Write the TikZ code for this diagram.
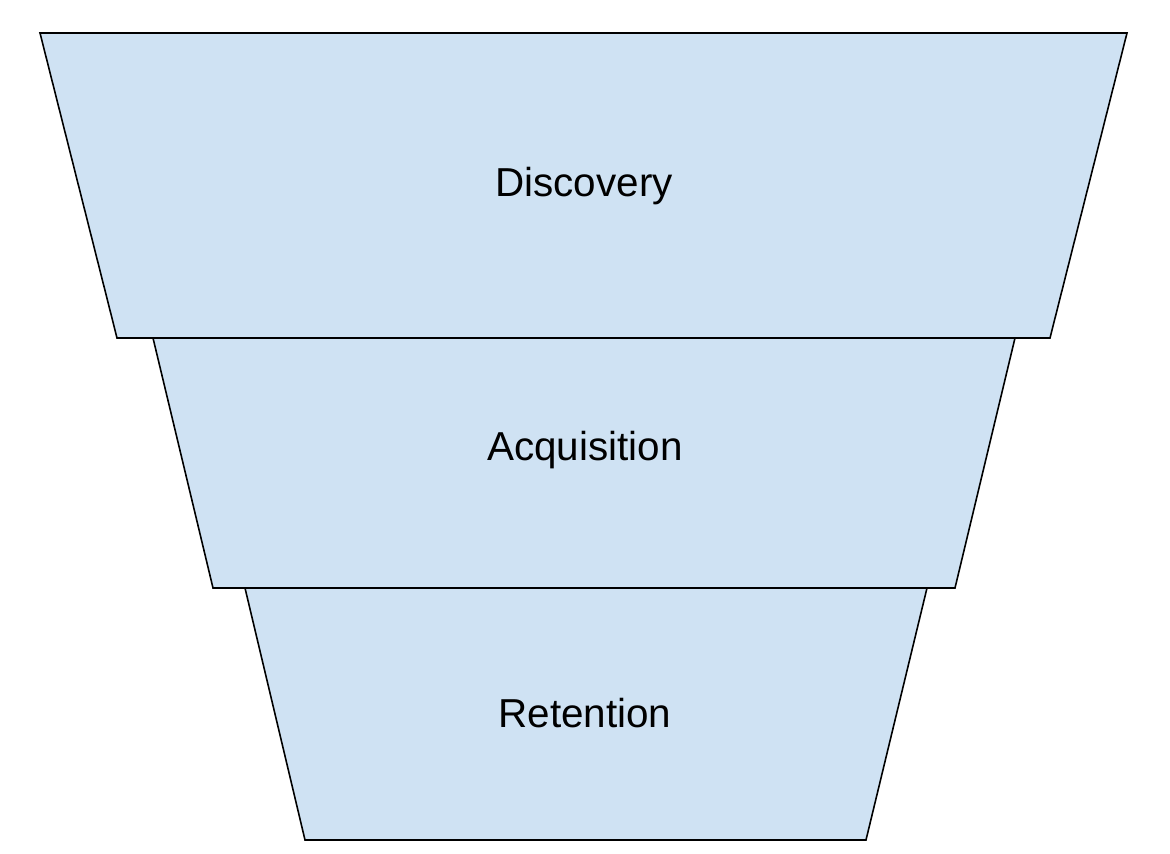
\documentclass[tikz,border=0pt]{standalone}
\usepackage{fontspec}
\setmainfont{Liberation Sans}
\definecolor{funnelblue}{HTML}{CFE2F3}

\begin{document}
\begin{tikzpicture}[
  x=0.02cm, y=-0.02cm,
  stage/.style={fill=funnelblue, draw=black, line width=0.9pt, line join=miter},
  lbl/.style={font=\fontsize{23}{28}\selectfont}
]
\useasboundingbox (0,0) rectangle (1170,854);

% -----------------------
% Funnel stages
% -----------------------
\filldraw[stage] (40,33) -- (1127,33) -- (1050,338) -- (117,338) -- cycle;
\filldraw[stage] (153,338) -- (1015,338) -- (955,588) -- (213,588) -- cycle;
\filldraw[stage] (245,588) -- (927,588) -- (866,840) -- (305,840) -- cycle;

% -----------------------
% Labels
% -----------------------
\node[lbl] (disc) at (584,186) {Discovery};
\node[lbl] (acq)  at (585,450) {Acquisition};
\node[lbl] (ret)  at (585,713) {Retention};

\end{tikzpicture}
\end{document}
